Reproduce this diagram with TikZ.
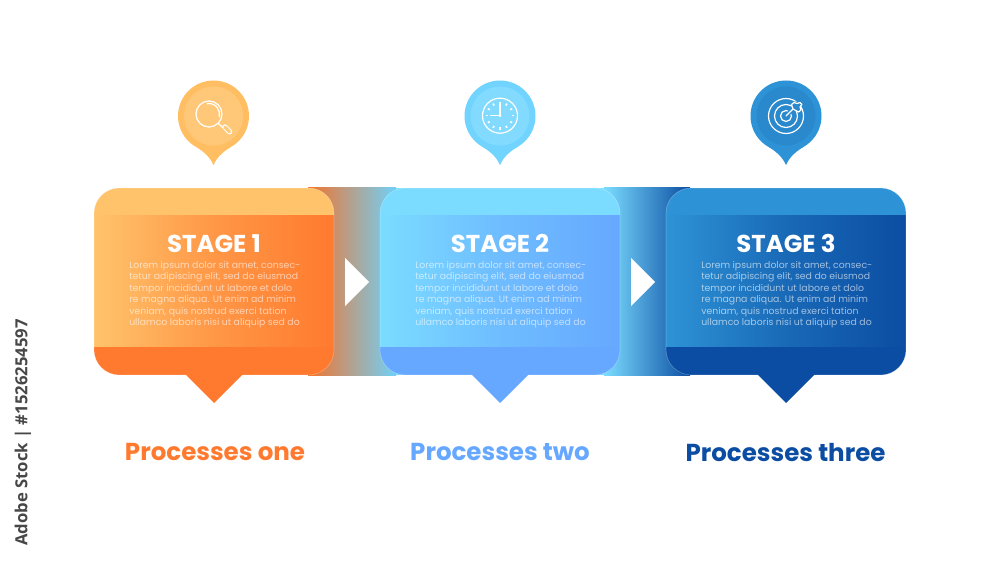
\documentclass[tikz,border=0pt]{standalone}
\usepackage{fontspec}
\setmainfont{Poppins}
\newfontfamily\sidefont{Open Sans}
\definecolor{orA}{HTML}{FFC36B}
\definecolor{orB}{HTML}{FF7A2E}
\definecolor{skA}{HTML}{7BDCFF}
\definecolor{skB}{HTML}{66A8FF}
\definecolor{blA}{HTML}{2E93D6}
\definecolor{blB}{HTML}{0B4DA2}
\definecolor{pinA}{HTML}{FFBE62}
\definecolor{pinAi}{HTML}{FFC878}
\definecolor{pinB}{HTML}{70D4FF}
\definecolor{pinBi}{HTML}{82DAFF}
\definecolor{pinC}{HTML}{2E93D6}
\definecolor{pinCi}{HTML}{2A88CC}
\tikzset{
  stagetitle/.style={text=white,font=\fontsize{18.3}{20}\selectfont\bfseries,anchor=center,inner sep=0pt},
  loremtext/.style={text=white,text opacity=.6,font=\fontsize{7}{8.52}\selectfont,align=left,anchor=north west,inner sep=0pt},
  proclabel/.style={font=\fontsize{18.4}{20}\selectfont\bfseries,anchor=center,inner sep=0pt},
  flowarrow/.style={fill=white,draw=none},
  iconline/.style={draw=white,line width=.9pt,fill=none,line cap=round,line join=round}
}
% #1 left x, #2 top colour, #3 bottom colour, #4 title, #5 name
\newcommand{\stagecard}[5]{%
  \begin{scope}[shift={(#1,0)}]
    \begin{scope}
      \clip[rounded corners=19pt] (0,188) rectangle (240,375);
      \fill[#2] (0,188) rectangle (240,216);
      \shade[left color=#2,right color=#3,middle color=#3!60!#2] (0,216) rectangle (240,347);
      \fill[#3] (0,347) rectangle (240,375);
    \end{scope}
    \draw[white,opacity=.25,line width=.5pt,rounded corners=19pt] (0,188) rectangle (240,375);
    \fill[#3] (89,372) -- (151,372) -- (120,403) -- cycle;
    \node[stagetitle] (#5title) at (120,243.5) {#4};
    \node[loremtext] (#5text) at (35,261.2) {Lorem ipsum dolor sit amet, consec-\\tetur adipiscing elit, sed do eiusmod\\tempor incididunt ut labore et dolo\\re magna aliqua. Ut enim ad minim\\veniam, quis nostrud exerci tation\\ullamco laboris nisi ut aliquip sed do};
  \end{scope}}
% #1 centre x, #2 outer colour, #3 inner colour
\newcommand{\mappin}[3]{%
  \fill[#2] (#1-17,147.1) .. controls (#1-11,151) and (#1-4,156) .. (#1,165) .. controls (#1+4,156) and (#1+11,151) .. (#1+17,147.1) -- cycle;
  \fill[#2] (#1,116) circle[radius=35.5];
  \fill[#3] (#1,116) circle[radius=29.5];}
\begin{document}
\begin{tikzpicture}[x=0.75pt,y=-0.75pt]
\useasboundingbox (0,0) rectangle (1000,563);
\fill[white] (0,0) rectangle (1000,563);
% connecting band
\shade[left color=orB!95!black,right color=skA!85!blA] (308,188) rectangle (396,375);
\fill[skA] (396,188) rectangle (604,375);
\shade[left color=skA,right color=blB] (604,188) rectangle (690,375);
% stage cards
\stagecard{94}{orA}{orB}{STAGE 1}{one}
\stagecard{380}{skA}{skB}{STAGE 2}{two}
\stagecard{666}{blA}{blB}{STAGE 3}{three}
% arrows
\fill[flowarrow] (345,258) -- (369,282) -- (345,306) -- cycle;
\fill[flowarrow] (631,258) -- (655,282) -- (631,306) -- cycle;
% pins
\mappin{213.5}{pinA}{pinAi}
\mappin{500}{pinB}{pinBi}
\mappin{786}{pinC}{pinCi}
% magnifier
\draw[iconline] (209,114) circle[radius=13];
\draw[iconline] (207.2,103.7) arc[start angle=-100,end angle=15,radius=10.5];
\draw[iconline] (218.5,123.5) -- (222.5,127.5);
\draw[iconline,line width=4pt] (224.8,127) -- (229.6,131.8);
\draw[line width=2.4pt,color=pinAi,line cap=round] (224.8,127) -- (229.6,131.8);
% clock
\draw[iconline] (500,115.7) circle[radius=17.5];
\foreach \a in {0,30,...,330}{
  \draw[white,line width=1.2pt] (500,115.7) ++(\a:14) -- ++(\a:-2.2);
}
\draw[white,line width=1.2pt,line cap=round] (500,115.7) -- (500,103.5);
\draw[white,line width=1.2pt,line cap=round] (500,115.7) -- (491,115.7);
\fill[white] (500,115.7) circle[radius=1.4];
% target
\draw[iconline] (786,116) circle[radius=17.5];
\draw[iconline] (786,116) circle[radius=11.5];
\draw[iconline] (786,116) circle[radius=5.5];
\draw[pinCi,line width=3pt] (786,116) -- (795,107);
\draw[iconline] (786,116) -- (793,109);
\fill[pinCi] (796,106) circle[radius=4.6];
\draw[iconline] (793,109) -- (791.5,104.5) -- (794,102.5) -- (797,103.5) -- (800,102.5) -- (802,104.5) -- (800,107) -- (801,110) -- (798.5,112) -- cycle;
% labels
\node[proclabel,text=orB] (labelone) at (215,451.5) {Processes one};
\node[proclabel,text=skB] (labeltwo) at (500,451.5) {Processes two};
\node[proclabel,text=blB] (labelthree) at (785.5,452.5) {Processes three};
% side credit
\node[rotate=90,font=\sidefont\fontsize{12.5}{16}\selectfont\bfseries,text=black!72,inner sep=0pt] (credit) at (23,432.5) {Adobe Stock | \#1526254597};
\end{tikzpicture}
\end{document}
